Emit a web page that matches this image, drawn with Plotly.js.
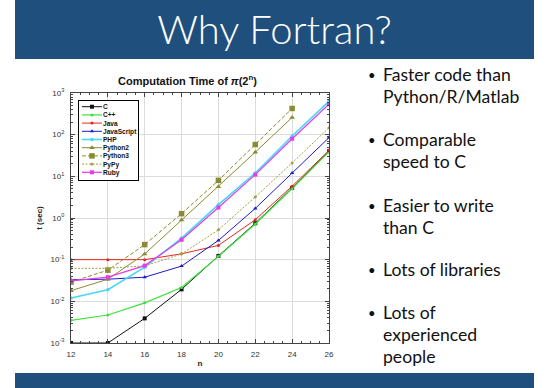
<!DOCTYPE html>
<html>
<head>
<meta charset="utf-8">
<script src="https://cdn.plot.ly/plotly-3.0.1.min.js"></script>
<style>
  html, body { margin: 0; padding: 0; background: #fff; }
  #slide { position: relative; width: 550px; height: 388px; overflow: hidden; background: #fff; font-family: Lato, "Open Sans", sans-serif; }
  .bar { position: absolute; left: 15px; width: 519px; background: #1f4f7d; }
  #title { position: absolute; left: 15px; width: 519px; top: 0; height: 59px; line-height: 59px; text-align: center; color: #fff; font-size: 40px; font-weight: 300; }
  .bul { position: absolute; left: 383px; font-size: 17.6px; line-height: 22px; color: #111; }
  .bul::before { content: "\2022"; position: absolute; left: -15px; font-size: 13px; }
  #chart { position: absolute; left: 0; top: 0; width: 550px; height: 388px; }
</style>
</head>
<body>
<div id="slide">
  <div class="bar" style="top:0;height:59px"></div>
  <div id="title">Why Fortran?</div>
  <div class="bar" style="top:373px;height:15px"></div>
  <div class="bul" style="top:64px">Faster code than<br>Python/R/Matlab</div>
  <div class="bul" style="top:129px">Comparable<br>speed to C</div>
  <div class="bul" style="top:195px">Easier to write<br>than C</div>
  <div class="bul" style="top:259px">Lots of libraries</div>
  <div class="bul" style="top:302px">Lots of<br>experienced<br>people</div>
  <div id="chart"></div>
</div>
<script>
// n values (problem size exponent)
const nFull = [12, 14, 16, 18, 20, 22, 24, 26];
const nShort = [12, 14, 16, 18, 20, 22, 24];

// computation time in seconds
const tC          = [0.001, 0.001, 0.0039, 0.0194, 0.123, 0.75, 5.3, 40];
const tCpp        = [0.0035, 0.0047, 0.0092, 0.0215, 0.12, 0.72, 5.1, 39];
const tJava       = [0.1, 0.1, 0.1, 0.138, 0.22, 0.91, 5.8, 42];
const tJavaScript = [0.033, 0.034, 0.038, 0.07, 0.29, 1.7, 12, 85];
const tPHP        = [0.012, 0.019, 0.066, 0.33, 2.1, 12, 93, 630];
const tPython2    = [0.018, 0.034, 0.137, 0.9, 5.6, 38, 260];
const tPython3    = [0.029, 0.056, 0.23, 1.27, 8, 58, 425];
const tPyPy       = [0.062, 0.062, 0.071, 0.137, 0.52, 3.2, 21, 147];
const tRuby       = [0.031, 0.038, 0.072, 0.30, 1.78, 11, 80, 540];

// tick labels
const yTickVals = [0.001, 0.01, 0.1, 1, 10, 100, 1000];
const yTickText = ['10<sup>-3</sup>', '10<sup>-2</sup>', '10<sup>-1</sup>', '10<sup>0</sup>', '10<sup>1</sup>', '10<sup>2</sup>', '10<sup>3</sup>'];
const xTickVals = [12, 14, 16, 18, 20, 22, 24, 26];

const series = [
  {name: 'C',          x: nFull,  y: tC,          color: '#111111', dash: 'solid', symbol: 'square',      size: 4,   width: 1},
  {name: 'C++',        x: nFull,  y: tCpp,        color: '#3ee03e', dash: 'solid', symbol: 'circle',      size: 3,   width: 1.2},
  {name: 'Java',       x: nFull,  y: tJava,       color: '#e6261c', dash: 'solid', symbol: 'circle',      size: 3,   width: 1},
  {name: 'JavaScript', x: nFull,  y: tJavaScript, color: '#1c1cc8', dash: 'solid', symbol: 'triangle-up', size: 4,   width: 1},
  {name: 'PHP',        x: nFull,  y: tPHP,        color: '#44d8f4', dash: 'solid', symbol: 'circle',      size: 3.5, width: 1.6},
  {name: 'Python2',    x: nShort, y: tPython2,    color: '#8a8a32', dash: 'solid', symbol: 'triangle-up', size: 5,   width: 1},
  {name: 'Python3',    x: nShort, y: tPython3,    color: '#8a8a32', dash: '4px,2px', symbol: 'square',    size: 5.5, width: 1},
  {name: 'PyPy',       x: nFull,  y: tPyPy,       color: '#a0a048', dash: '2px,1.5px', symbol: 'circle',  size: 3,   width: 1},
  {name: 'Ruby',       x: nFull,  y: tRuby,       color: '#e83ae8', dash: 'solid', symbol: 'square',      size: 4,   width: 1.2}
];

const traces = series.map(s => ({
  type: 'scatter', mode: 'lines+markers', name: s.name, x: s.x, y: s.y,
  line: {color: s.color, width: s.width, dash: s.dash},
  marker: {color: s.color, symbol: s.symbol, size: s.size}
}));

const axisFont = {family: 'Arial, Liberation Sans, sans-serif', size: 8, color: '#333'};

const layout = {
  width: 550, height: 388,
  margin: {l: 71, r: 221, t: 93, b: 45},
  paper_bgcolor: 'rgba(0,0,0,0)', plot_bgcolor: '#fff',
  showlegend: true,
  legend: {
    x: 0.027, y: 0.972, xanchor: 'left', yanchor: 'top',
    bgcolor: '#fff', bordercolor: '#000', borderwidth: 1,
    font: {family: 'Arial, Liberation Sans, sans-serif', size: 6.6, color: '#111', weight: 'bold'},
    itemwidth: 30, tracegroupgap: 0
  },
  xaxis: {
    range: [12, 26], tickvals: xTickVals, ticks: 'inside', ticklen: 4, tickcolor: '#444',
    showline: true, linecolor: '#444', linewidth: 1, mirror: 'allticks',
    showgrid: true, gridcolor: '#dcdcdc', gridwidth: 1, zeroline: false,
    tickfont: axisFont, ticklabelstandoff: 3,
    minor: {dtick: 0.5, ticks: 'inside', ticklen: 2, tickcolor: '#444', showgrid: false},
    title: {text: 'n', font: {family: 'Arial, Liberation Sans, sans-serif', size: 8, color: '#222', weight: 'bold'}, standoff: 2}
  },
  yaxis: {
    type: 'log', range: [-3, 3], tickvals: yTickVals, ticktext: yTickText,
    ticks: 'inside', ticklen: 4, tickcolor: '#444',
    showline: true, linecolor: '#444', linewidth: 1, mirror: 'allticks',
    showgrid: true, gridcolor: '#dcdcdc', gridwidth: 1, zeroline: false,
    tickfont: axisFont, ticklabelstandoff: 4,
    minor: {dtick: 'D1', ticks: 'inside', ticklen: 2, tickcolor: '#444', showgrid: false},
    title: {text: 't (sec)', font: {family: 'Arial, Liberation Sans, sans-serif', size: 8, color: '#222', weight: 'bold'}, standoff: 6}
  },
  annotations: [{
    xref: 'paper', yref: 'paper', x: 0.45, y: 1, yshift: 13, xanchor: 'center', yanchor: 'middle',
    showarrow: false,
    text: 'Computation Time of <i>π</i>(2<sup>n</sup>)',
    font: {family: 'Arial, Liberation Sans, sans-serif', size: 11, color: '#111', weight: 'bold'}
  }]
};

Plotly.newPlot('chart', traces, layout, {staticPlot: true, displayModeBar: false}).then(gd => {
  // compact the legend to match the tight original legend box
  const step = 8.2, top = 6.7, lineX0 = 4, lineLen = 20, markX = 14, textX = 25, boxW = 60, boxH = 80;
  const items = gd.querySelectorAll('.legend .traces');
  items.forEach((g, i) => {
    g.setAttribute('transform', 'translate(0,' + (top + i * step) + ')');
    g.querySelectorAll('.legendlines path').forEach(p => p.setAttribute('d', 'M' + lineX0 + ',0h' + lineLen));
    g.querySelectorAll('.legendsymbols path, .legendpoints path.scatterpts').forEach(p => {
      const tr = p.getAttribute('transform') || '';
      if (/translate/.test(tr)) p.setAttribute('transform', tr.replace(/translate\([^)]*\)/, 'translate(' + markX + ',0)'));
      else p.setAttribute('transform', 'translate(' + markX + ',0)');
    });
    g.querySelectorAll('text.legendtext').forEach(t => t.setAttribute('x', textX));
  });
  const bg = gd.querySelector('.legend rect.bg');
  if (bg) { bg.setAttribute('width', boxW); bg.setAttribute('height', boxH); }
});
</script>
</body>
</html>
